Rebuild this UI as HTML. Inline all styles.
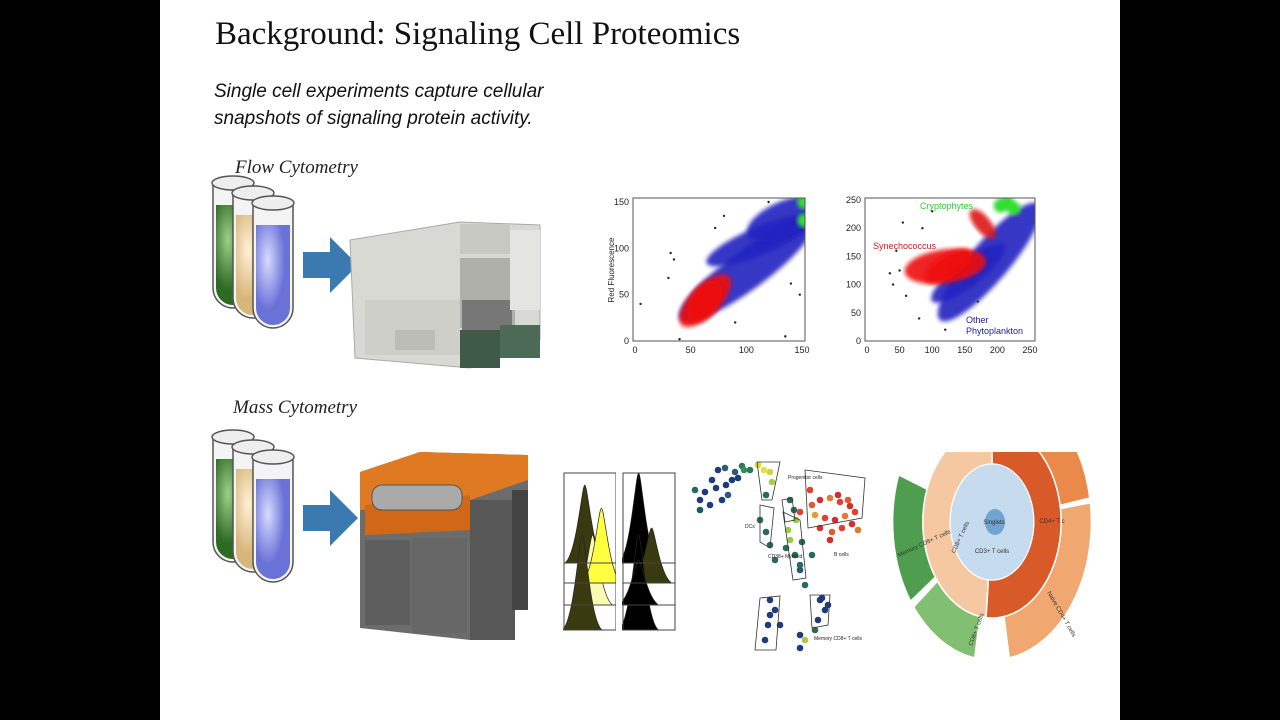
<!DOCTYPE html>
<html><head><meta charset="utf-8"><style>
body{margin:0;background:#000;width:1280px;height:720px;overflow:hidden;font-family:"Liberation Sans",sans-serif}
#slide{position:absolute;left:160px;top:0;width:960px;height:720px;background:#fff}
svg{position:absolute;left:0;top:0}
</style></head><body>
<div id="slide"></div>
<svg width="1280" height="720" id="s">
<defs>
<radialGradient id="gb" cx="35%" cy="35%"><stop offset="0" stop-color="#d8dcff"/><stop offset="1" stop-color="#6a72d8"/></radialGradient>
<radialGradient id="gg" cx="35%" cy="35%"><stop offset="0" stop-color="#9fcf88"/><stop offset="1" stop-color="#2d6a24"/></radialGradient>
<radialGradient id="gt" cx="35%" cy="35%"><stop offset="0" stop-color="#fff2d6"/><stop offset="1" stop-color="#d8b57a"/></radialGradient>
<filter id="bl"><feGaussianBlur stdDeviation="2"/></filter>
<clipPath id="sunclip"><rect x="880" y="452" width="230" height="220"/></clipPath>
</defs>
<text x="215" y="44" font-family="Liberation Serif,serif" font-size="33" fill="#111">Background: Signaling Cell Proteomics</text>
<text x="214" y="97" font-size="19" font-style="italic" fill="#111">Single cell experiments capture cellular</text>
<text x="214" y="124" font-size="19" font-style="italic" fill="#111">snapshots of signaling protein activity.</text>
<text x="235" y="173" font-family="Liberation Serif,serif" font-size="19" font-style="italic" fill="#222">Flow Cytometry</text>
<text x="233" y="413" font-family="Liberation Serif,serif" font-size="19" font-style="italic" fill="#222">Mass Cytometry</text>
<g id="tubes1"></g>
<g id="tubes2"></g>
<polygon points="303,252 330,252 330,237 358,265 330,293 330,278 303,278" fill="#3a7ab0"/>
<polygon points="303,505 330,505 330,490 358,518 330,546 330,531 303,531" fill="#3a7ab0"/>
<g>
<path d="M350,240 L460,222 L540,225 L540,340 L470,368 L355,358 Z" fill="#d9d9d4" stroke="#aaa"/>
<rect x="460" y="224" width="50" height="30" fill="#c9c9c4"/>
<rect x="460" y="258" width="55" height="70" fill="#b0b0aa"/>
<rect x="462" y="300" width="50" height="30" fill="#777"/>
<rect x="510" y="230" width="30" height="80" fill="#e4e4e0"/>
<rect x="460" y="330" width="40" height="38" fill="#3f5a48"/>
<rect x="500" y="325" width="40" height="33" fill="#4c6a56"/>
<rect x="365" y="300" width="95" height="55" fill="#cfcfca"/>
<rect x="395" y="330" width="40" height="20" fill="#bdbdb8"/>
</g>
<g>
<path d="M360,472 L420,452 L528,455 L528,600 L470,640 L360,628 Z" fill="#6c6c6c"/>
<path d="M360,472 L420,452 L528,455 L528,480 L470,500 L360,510 Z" fill="#e07a22"/>
<path d="M365,505 L470,495 L470,530 L365,535 Z" fill="#d06818"/>
<rect x="372" y="485" width="90" height="25" rx="10" fill="#aaa" stroke="#555"/>
<rect x="365" y="540" width="45" height="85" fill="#5e5e5e"/>
<rect x="412" y="538" width="55" height="95" fill="#666"/>
<rect x="470" y="500" width="45" height="140" fill="#575757"/>
<rect x="512" y="490" width="16" height="120" fill="#444"/>
</g>
<g id="p1"></g>
<g id="p2"></g>
<g id="hist"></g>
<g id="tsne"></g>
<g id="sun" clip-path="url(#sunclip)"></g>
</svg>
<script>
const NS="http://www.w3.org/2000/svg";
function mk(p,t,a){const e=document.createElementNS(NS,t);for(const k in a)e.setAttribute(k,a[k]);p.appendChild(e);return e;}
function tubes(g,y0){
 const fills=["url(#gg)","url(#gt)","url(#gb)"];
 for(let i=0;i<3;i++){const x=213+i*20,y=y0+i*10;
  const b=mk(g,"path",{d:`M${x},${y} L${x},${y+105} a20,20 0 0 0 40,0 L${x+40},${y} Z`,fill:"#f4f4f4",stroke:"#555","stroke-width":"1.5"});
  
  mk(g,"path",{d:`M${x+3},${y+22} L${x+3},${y+105} a17,17 0 0 0 34,0 L${x+37},${y+22} Z`,fill:fills[i]});
  mk(g,"ellipse",{cx:x+20,cy:y,rx:21,ry:7,fill:"#eee",stroke:"#555","stroke-width":"1.5"});}
}
tubes(document.getElementById("tubes1"),183);tubes(document.getElementById("tubes2"),437);

const p1Ticks=[0,50,100,150];
const p1Clusters=[ // [x1,y1,x2,y2,width,color]
 [50,32,150,120,42,"#2020c0"],[72,88,155,130,30,"#2020c0"],[110,120,155,145,35,"#2020c0"],[48,25,78,62,32,"#ee1010"],[55,30,70,55,30,"#ee1010"]];
const p1Green=[[152,130],[152,150]];
const p1Out=[[5,40],[32,95],[30,68],[80,135],[120,150],[135,5],[148,50],[90,20],[40,2],[35,88],[72,122],[140,62]];
const p2Ticks=[0,50,100,150,200,250];
const p2Clusters=[[125,55,250,225,70,"#2020c0"],[110,80,200,160,45,"#2020c0"],[75,125,165,140,60,"#ee1010"],[100,115,150,150,40,"#ee1010"],[165,225,190,190,28,"#dd1515"]];
const p2Green=[[205,240],[225,235],[215,245]];
const p2Out=[[45,160],[55,210],[80,40],[120,20],[40,100],[60,80],[170,70],[100,230],[85,200],[35,120],[50,125]];
function scatter(id,box,dom,ticks,clusters,green,outs,ylabel){
 const g=document.getElementById(id);
 const sx=v=>box.x0+(v-dom[0])/(dom[1]-dom[0])*(box.x1-box.x0);
 const sy=v=>box.y0-(v-dom[0])/(dom[1]-dom[0])*(box.y0-box.y1);
 const L=box.l,R=box.r,T=box.t,B=box.b;
 const cp=mk(g,"clipPath",{id:id+"c"});mk(cp,"rect",{x:L,y:T,width:R-L,height:B-T});
 const inner=mk(g,"g",{"clip-path":`url(#${id}c)`});
 for(const c of clusters){const x1=sx(c[0]),y1=sy(c[1]),x2=sx(c[2]),y2=sy(c[3]);
  const len=Math.hypot(x2-x1,y2-y1),ang=Math.atan2(y2-y1,x2-x1)*180/Math.PI,w=Math.abs(sy(c[4])-sy(0));
  const e=mk(inner,"ellipse",{cx:(x1+x2)/2,cy:(y1+y2)/2,rx:len/2+w/3,ry:w/2,fill:c[5],opacity:0.9,filter:"url(#bl)",transform:`rotate(${ang} ${(x1+x2)/2} ${(y1+y2)/2})`});
  }
 for(const p of green){const e=mk(inner,"circle",{cx:sx(p[0]),cy:sy(p[1]),r:7,fill:"#30dd30",filter:"url(#bl)"});
  }
 for(const p of outs){const e=mk(inner,"circle",{cx:sx(p[0]),cy:sy(p[1]),r:1.2,fill:"#223"});
  }
 mk(g,"rect",{x:L,y:T,width:R-L,height:B-T,fill:"none",stroke:"#555","stroke-width":"1"});
 for(const t of ticks){
  const tx=mk(g,"text",{x:sx(t),y:B+12,"font-size":"9","text-anchor":"middle",fill:"#222"});tx.textContent=t;
  
  const ty=mk(g,"text",{x:L-4,y:sy(t)+3,"font-size":"9","text-anchor":"end",fill:"#222"});ty.textContent=t;
  }
 if(ylabel){const yl=mk(g,"text",{x:614,y:270,"font-size":"8","text-anchor":"middle",transform:"rotate(-90 614 270)",fill:"#222"});yl.textContent=ylabel;
  }
 return {sx,sy,g};
}
scatter("p1",{x0:635,x1:802,y0:341,y1:202,l:633,r:805,t:198,b:341},[0,150],p1Ticks,p1Clusters,p1Green,p1Out,"Red Fluorescence");
const s2=scatter("p2",{x0:867,x1:1030,y0:341,y1:200,l:865,r:1035,t:198,b:341},[0,250],p2Ticks,p2Clusters,p2Green,p2Out,null);
[["Cryptophytes",920,209,"#33cc33"],["Synechococcus",873,249,"#cc2020"],["Other",966,323,"#2020a0"],["Phytoplankton",966,334,"#2020a0"]].forEach(l=>{
 const t=mk(s2.g,"text",{x:l[1],y:l[2],"font-size":"9",fill:l[3]});t.textContent=l[0];
 });

// histograms: [baseline y, center %, height px, color]
const hg=document.getElementById("hist");
const histPeaksL=[[563,40,78,"#3a3a10"],[605,55,70,"#fafab0"],[583,72,75,"#ffff40"],[630,35,95,"#3a3a10"]];
const histPeaksR=[[563,30,90,"#000"],[583,55,55,"#3a3a10"],[630,30,95,"#000"],[605,30,45,"#000"]];
function hpanel(x0,peaks){
 const w=52,top=473,bot=630;
 mk(hg,"rect",{x:x0,y:top,width:w,height:bot-top,fill:"#fff",stroke:"#444"});
 for(const p of peaks){const px=x0+p[1]/100*w,by=p[0],h=p[2];
  const e=mk(hg,"path",{d:`M${px-20},${by} C${px-8},${by-8} ${px-3},${by-h} ${px},${by-h} C${px+3},${by-h} ${px+8},${by-8} ${px+20},${by} Z`,fill:p[3],stroke:"#222","stroke-width":"0.7"});
  }
 for(const r of [563,583,605]) mk(hg,"line",{x1:x0,x2:x0+w,y1:r,y2:r,stroke:"#444"});
 mk(hg,"rect",{x:x0,y:top,width:w,height:bot-top,fill:"none",stroke:"#444"});
}
hpanel(564,histPeaksL);hpanel(623,histPeaksR);
// clip peaks outside panels
mk(hg,"rect",{x:616,y:470,width:6,height:165,fill:"#fff"});mk(hg,"rect",{x:540,y:470,width:23,height:165,fill:"#fff"});mk(hg,"rect",{x:676,y:470,width:14,height:165,fill:"#fff"});

const tg=document.getElementById("tsne");
const tsneX=[700,705,712,718,725,735,742,750,700,710,716,726,732,744,758,764,770,772,766,790,794,796,760,766,770,786,788,800,812,820,830,840,850,815,825,835,845,855,820,832,842,852,795,800,805,812,802,770,775,768,780,820,825,818,828,822,815,800,805,800,695,722,738,728,810,838,848,858,830,775,790,800,765,770];
const tsneY=[500,492,480,470,468,472,466,470,510,505,488,485,480,470,465,470,472,482,495,500,510,520,520,532,545,548,530,512,505,500,498,502,506,515,518,520,516,512,528,532,528,524,555,570,585,555,542,600,610,625,625,600,610,620,605,598,630,635,640,648,490,500,478,495,490,495,500,530,540,560,540,565,640,615];
const tsneC=["#1f3b7a","#1f3b7a","#1f3b7a","#1f3b7a","#2a5a7a","#2a5a7a","#2a7a5a","#2a7a5a","#1f5a5a","#1f3b7a","#1f3b7a","#1f3b7a","#1f3b7a","#3a8a5a","#d8d830","#e0e040","#c8d840","#aacc40","#2a6a5a","#2a6a5a","#2a6a5a","#9acc40","#2a6a5a","#2a6a5a","#2a6a5a","#2a6a5a","#9acc40","#e04030","#e05a30","#d03030","#e07a30","#e04030","#d03030","#e0a030","#e04030","#d03030","#e07a30","#e04030","#d03030","#e05a30","#e04030","#d03030","#2a6a5a","#1f5a7a","#2a6a5a","#2a6a5a","#2a6a5a","#1f3b7a","#1f3b7a","#1f3b7a","#1f3b7a","#1f3b7a","#1f3b7a","#1f3b7a","#1f3b7a","#1f3b7a","#2a6a5a","#1f3b7a","#aacc40","#1f3b7a","#2a6a5a","#1f3b7a","#1f3b7a","#2a5a7a","#e04030","#d03030","#e05a30","#e07a30","#d03030","#2a6a5a","#9acc40","#2a6a5a","#1f3b7a","#1f3b7a"];
tsneX.forEach((x,i)=>{const c=mk(tg,"circle",{cx:x,cy:tsneY[i],r:3.3,fill:tsneC[i]});
 });
[["M757,462 L780,462 L772,500 L762,500 Z"],["M805,470 L865,478 L862,518 L808,528 Z"],["M782,500 L792,498 L795,520 L785,522 Z"],["M760,505 L774,508 L770,548 L760,542 Z"],["M783,512 L800,520 L806,578 L793,580 Z"],["M760,598 L780,596 L776,650 L755,650 Z"],["M810,595 L830,595 L828,625 L812,628 Z"]].forEach(p=>{
 const e=mk(tg,"path",{d:p[0],fill:"none",stroke:"#333","stroke-width":"0.8"});});
[["Progenitor cells",788,479],["DCs",745,528],["CD38+ Myeloid",768,558],["B cells",834,556],["Memory CD8+ T cells",814,640]].forEach(l=>{
 const t=mk(tg,"text",{x:l[1],y:l[2],"font-size":"5",fill:"#222"});t.textContent=l[0];});

const sg=document.getElementById("sun");
const cx=992,cy=522,kx=0.72;
const ring2Start=[-90,95],ring2End=[95,270],ring2Col=["#d85a28","#f6c8a2"];
const ring3Start=[-100,-8,100,145],ring3End=[-10,80,142,200],ring3Col=["#ea8a4a","#f0a870","#80c070","#4f9e4f"];
function arc(r0,r1,a0,a1,col,name){
 const p=(r,a)=>[cx+kx*r*Math.cos(a*Math.PI/180),cy+r*Math.sin(a*Math.PI/180)];
 const [x0,y0]=p(r1,a0),[x1,y1]=p(r1,a1),[x2,y2]=p(r0,a1),[x3,y3]=p(r0,a0);const lg=(a1-a0)>180?1:0;
 const e=mk(sg,"path",{d:`M${x0},${y0} A${kx*r1},${r1} 0 ${lg} 1 ${x1},${y1} L${x2},${y2} A${kx*r0},${r0} 0 ${lg} 0 ${x3},${y3} Z`,fill:col,stroke:"#fff","stroke-width":"1.5"});
 }
ring3Start.forEach((a,i)=>arc(96,138,a,ring3End[i],ring3Col[i],'outer-segment'));
ring2Start.forEach((a,i)=>arc(58,96,a,ring2End[i],ring2Col[i],'middle-segment'));
const d=mk(sg,"ellipse",{cx:cx,cy:cy,rx:58*kx,ry:58,fill:"#c6dbed",stroke:"#fff"});
const d2=mk(sg,"ellipse",{cx:cx+3,cy:cy,rx:10,ry:13,fill:"#6fa5d0"});
[["Singlets",994,524,0],["CD3+ T cells",992,553,0],["CD4+ T c",1052,523,0],["Memory CD8+ T cells",925,545,-25],["CD8+ T cells",962,538,-65],["CD8+ T cells",978,630,-70],["Naive CD4+ T cells",1060,615,60]].forEach(l=>{
 const t=mk(sg,"text",{x:l[1],y:l[2],"font-size":"6","text-anchor":"middle",fill:"#333",transform:`rotate(${l[3]} ${l[1]} ${l[2]})`});t.textContent=l[0];
 });
</script>
</body></html>
